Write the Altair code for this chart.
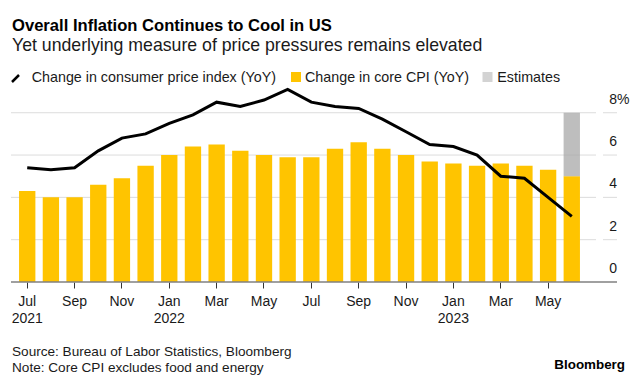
import altair as alt
import pandas as pd

months = ["Jul 2021", "Aug 2021", "Sep 2021", "Oct 2021", "Nov 2021", "Dec 2021",
          "Jan 2022", "Feb 2022", "Mar 2022", "Apr 2022", "May 2022", "Jun 2022",
          "Jul 2022", "Aug 2022", "Sep 2022", "Oct 2022", "Nov 2022", "Dec 2022",
          "Jan 2023", "Feb 2023", "Mar 2023", "Apr 2023", "May 2023", "Jun 2023"]
core_cpi = [4.3, 4.0, 4.0, 4.6, 4.9, 5.5, 6.0, 6.4, 6.5, 6.2, 6.0, 5.9,
            5.9, 6.3, 6.6, 6.3, 6.0, 5.7, 5.6, 5.5, 5.6, 5.5, 5.3, 5.0]
headline_cpi = [5.4, 5.3, 5.4, 6.2, 6.8, 7.0, 7.5, 7.9, 8.5, 8.3, 8.6, 9.1,
                8.5, 8.3, 8.2, 7.7, 7.1, 6.5, 6.4, 6.0, 5.0, 4.9, 4.0, 3.1]
estimate_month = ["Jun 2023"]
estimate_low = [5.0]
estimate_high = [8.0]
y_ticks = [0, 2, 4, 6, 8]
x_tick_months = months[::2]

FONT = "Liberation Sans"
YELLOW = "#FFC400"
TXT = "#1a1a1a"

W, H = 577, 201

df = pd.DataFrame({"month": months, "core": core_cpi, "cpi": headline_cpi})
df_est = pd.DataFrame({"month": estimate_month, "lo": estimate_low, "hi": estimate_high})
df_y = pd.DataFrame({"v": y_ticks, "lab": [str(v) for v in y_ticks]})

xscale = alt.Scale(domain=months, paddingInner=0.31, paddingOuter=0.34)
yscale = alt.Scale(domain=[0, 9.5], nice=False, zero=True)

label_expr = ("datum.label == 'Jul 2021' || substring(datum.label, 0, 3) == 'Jan' "
              "? split(datum.label, ' ') : substring(datum.label, 0, 3)")

xaxis = alt.Axis(values=x_tick_months, labelExpr=label_expr, title=None, domain=False,
                 grid=False, ticks=True, tickSize=6, tickColor="#333", tickWidth=1,
                 labelAngle=0, labelFont=FONT, labelFontSize=14, labelColor=TXT,
                 labelPadding=6, labelLineHeight=17.5, labelBaseline="top")

grid = alt.Chart(df_y[df_y.v > 0]).mark_rule(color="#dcdcdc", strokeWidth=1).encode(
    y=alt.Y("v:Q", scale=yscale, axis=None), x=alt.value(0), x2=alt.value(585))
grid2 = alt.Chart(df_y[df_y.v > 0]).mark_rule(color="#dcdcdc", strokeWidth=1).encode(
    y=alt.Y("v:Q", scale=yscale, axis=None), x=alt.value(592), x2=alt.value(606))

bars = alt.Chart(df).mark_bar(color=YELLOW).encode(
    x=alt.X("month:N", scale=xscale, axis=xaxis, sort=months),
    y=alt.Y("core:Q", scale=yscale, axis=None))

est = alt.Chart(df_est).mark_bar(color="#a8a8a8", opacity=0.75).encode(
    x=alt.X("month:N", scale=xscale, sort=months),
    y=alt.Y("lo:Q", scale=yscale, axis=None), y2="hi:Q")

line = alt.Chart(df).mark_line(color="#000000", strokeWidth=3, strokeJoin="miter").encode(
    x=alt.X("month:N", scale=xscale, sort=months),
    y=alt.Y("cpi:Q", scale=yscale, axis=None))

baseline = alt.Chart(pd.DataFrame({"v": [0]})).mark_rule(color="#808080", strokeWidth=1.5).encode(
    y=alt.Y("v:Q", scale=yscale, axis=None), x=alt.value(0), x2=alt.value(606))

ylabels = alt.Chart(df_y).mark_text(font=FONT, fontSize=14, color=TXT, align="right",
                                    baseline="middle", dy=-13).encode(
    y=alt.Y("v:Q", scale=yscale, axis=None), x=alt.value(606), text="lab:N")
pct = alt.Chart(df_y[df_y.v == 8]).mark_text(font=FONT, fontSize=14, color=TXT, align="left",
                                             baseline="middle", dy=-13).encode(
    y=alt.Y("v:Q", scale=yscale, axis=None), x=alt.value(606), text=alt.value("%"))


def txt(s, x, y, size=13, bold=False, align="left", color=TXT):
    return alt.Chart(pd.DataFrame({"t": [s]})).mark_text(
        font=FONT, fontSize=size, fontWeight="bold" if bold else "normal", color=color,
        align=align, baseline="alphabetic").encode(
        x=alt.value(x), y=alt.value(y), text="t:N")


title = txt("Overall Inflation Continues to Cool in US", 1, -50, size=16.6, bold=True, color="#000")
subtitle = txt("Yet underlying measure of price pressures remains elevated", 1, -30.5, size=17.7)

leg_slash = alt.Chart(pd.DataFrame({"a": [0]})).mark_rule(color="#000", strokeWidth=2.5).encode(
    x=alt.value(1), x2=alt.value(8), y=alt.value(1), y2=alt.value(-6))
leg_t1 = txt("Change in consumer price index (YoY)", 20.7, 1.3, size=14.3)
leg_sq1 = alt.Chart(pd.DataFrame({"a": [0]})).mark_square(color=YELLOW, size=100, opacity=1).encode(
    x=alt.value(285), y=alt.value(-4))
leg_t2 = txt("Change in core CPI (YoY)", 294, 1.3, size=14.3)
leg_sq2 = alt.Chart(pd.DataFrame({"a": [0]})).mark_square(color="#d3d3d3", size=100, opacity=1).encode(
    x=alt.value(476.5), y=alt.value(-4))
leg_t3 = txt("Estimates", 486.3, 1.3, size=14.3)

src = txt("Source: Bureau of Labor Statistics, Bloomberg", 1, 275, size=13.6)
note = txt("Note: Core CPI excludes food and energy", 1, 291, size=13.6)
logo = txt("Bloomberg", 614, 288, size=13.4, bold=True, align="right", color="#000")

chart = alt.layer(
    grid, grid2, bars, est, line, baseline, ylabels, pct,
    title, subtitle, leg_slash, leg_t1, leg_sq1, leg_t2, leg_sq2, leg_t3,
    src, note, logo
).properties(
    width=W, height=H,
    autosize=alt.AutoSizeParams(type="none"),
    padding={"left": 3, "top": 73, "right": 46, "bottom": 95},
    background="#ffffff"
).configure_view(stroke=None, clip=False)

chart.save("out.html", embed_options={"renderer": "svg", "actions": False})
